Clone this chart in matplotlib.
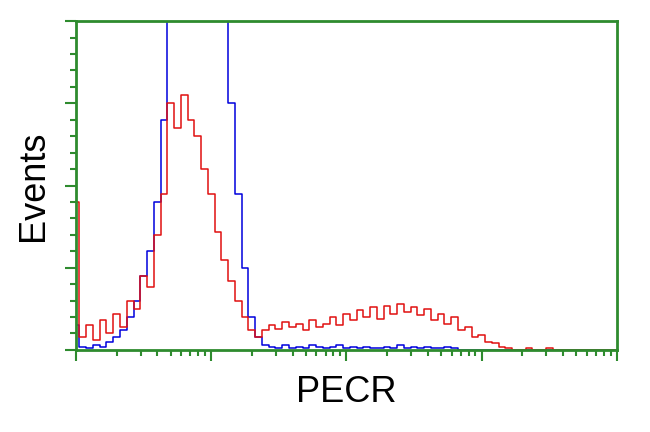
import numpy as np
import matplotlib.pyplot as plt
from matplotlib.ticker import MultipleLocator, FixedLocator

plt.rcParams['font.family'] = ['Liberation Sans', 'DejaVu Sans']

# bin centers in log10 units (decades), step 0.05 from 0 to 4
red_counts = [90, 8, 15, 6, 18, 10, 22, 14, 30, 25, 45, 38, 70, 95, 150, 135, 155, 140, 130, 110,
              95, 72, 55, 42, 30, 20, 12, 8, 12, 15, 13, 17, 14, 16, 12, 18, 14, 16, 20, 15,
              22, 18, 24, 20, 26, 19, 27, 22, 28, 23, 26, 21, 25, 18, 22, 16, 20, 12, 14, 8,
              9, 5, 4, 2, 1, 0, 0, 1, 0, 0, 1, 0, 0, 0, 0, 0, 0, 0, 0, 0, 0]
blue_counts = [15, 2, 1, 3, 2, 5, 8, 12, 20, 30, 45, 60, 90, 140, 210, 230, 240, 240, 240, 240,
               240, 235, 200, 150, 95, 50, 20, 8, 3, 2, 1, 3, 1, 2, 1, 3, 2, 1, 2, 3,
               1, 2, 1, 2, 1, 1, 2, 1, 3, 1, 2, 1, 2, 1, 1, 2, 1, 0, 0, 0,
               0, 0, 0, 0, 0, 0, 0, 0, 0, 0, 0, 0, 0, 0, 0, 0, 0, 0, 0, 0, 0]
x = np.arange(len(red_counts)) * 0.05

green = '#2e8b2e'
fig = plt.figure(figsize=(6.5, 4.32), dpi=100)
ax = fig.add_axes([0.117, 0.19, 0.832, 0.761])
ax.plot(x, blue_counts, color='#0000dd', lw=1.1, drawstyle='steps-mid')
ax.plot(x, red_counts, color='#e01010', lw=1.1, drawstyle='steps-mid')
ax.set_xlim(0, 4)
ax.set_ylim(0, 200)
for s in ax.spines.values():
    s.set_color(green)
    s.set_linewidth(2)
ax.xaxis.set_major_locator(FixedLocator([0, 1, 2, 3, 4]))
minor = [d + np.log10(k) for d in range(4) for k in range(2, 10)]
ax.xaxis.set_minor_locator(FixedLocator(minor))
ax.yaxis.set_major_locator(MultipleLocator(50))
ax.yaxis.set_minor_locator(MultipleLocator(10))
ax.tick_params(which='both', colors=green, labelbottom=False, labelleft=False, direction='out', width=1.5)
ax.tick_params(which='major', length=8)
ax.tick_params(which='minor', length=4)
ax.set_xlabel('PECR', fontsize=26, labelpad=10)
ax.set_ylabel('Events', fontsize=26, labelpad=10)
fig.savefig('out.png', dpi=100)
